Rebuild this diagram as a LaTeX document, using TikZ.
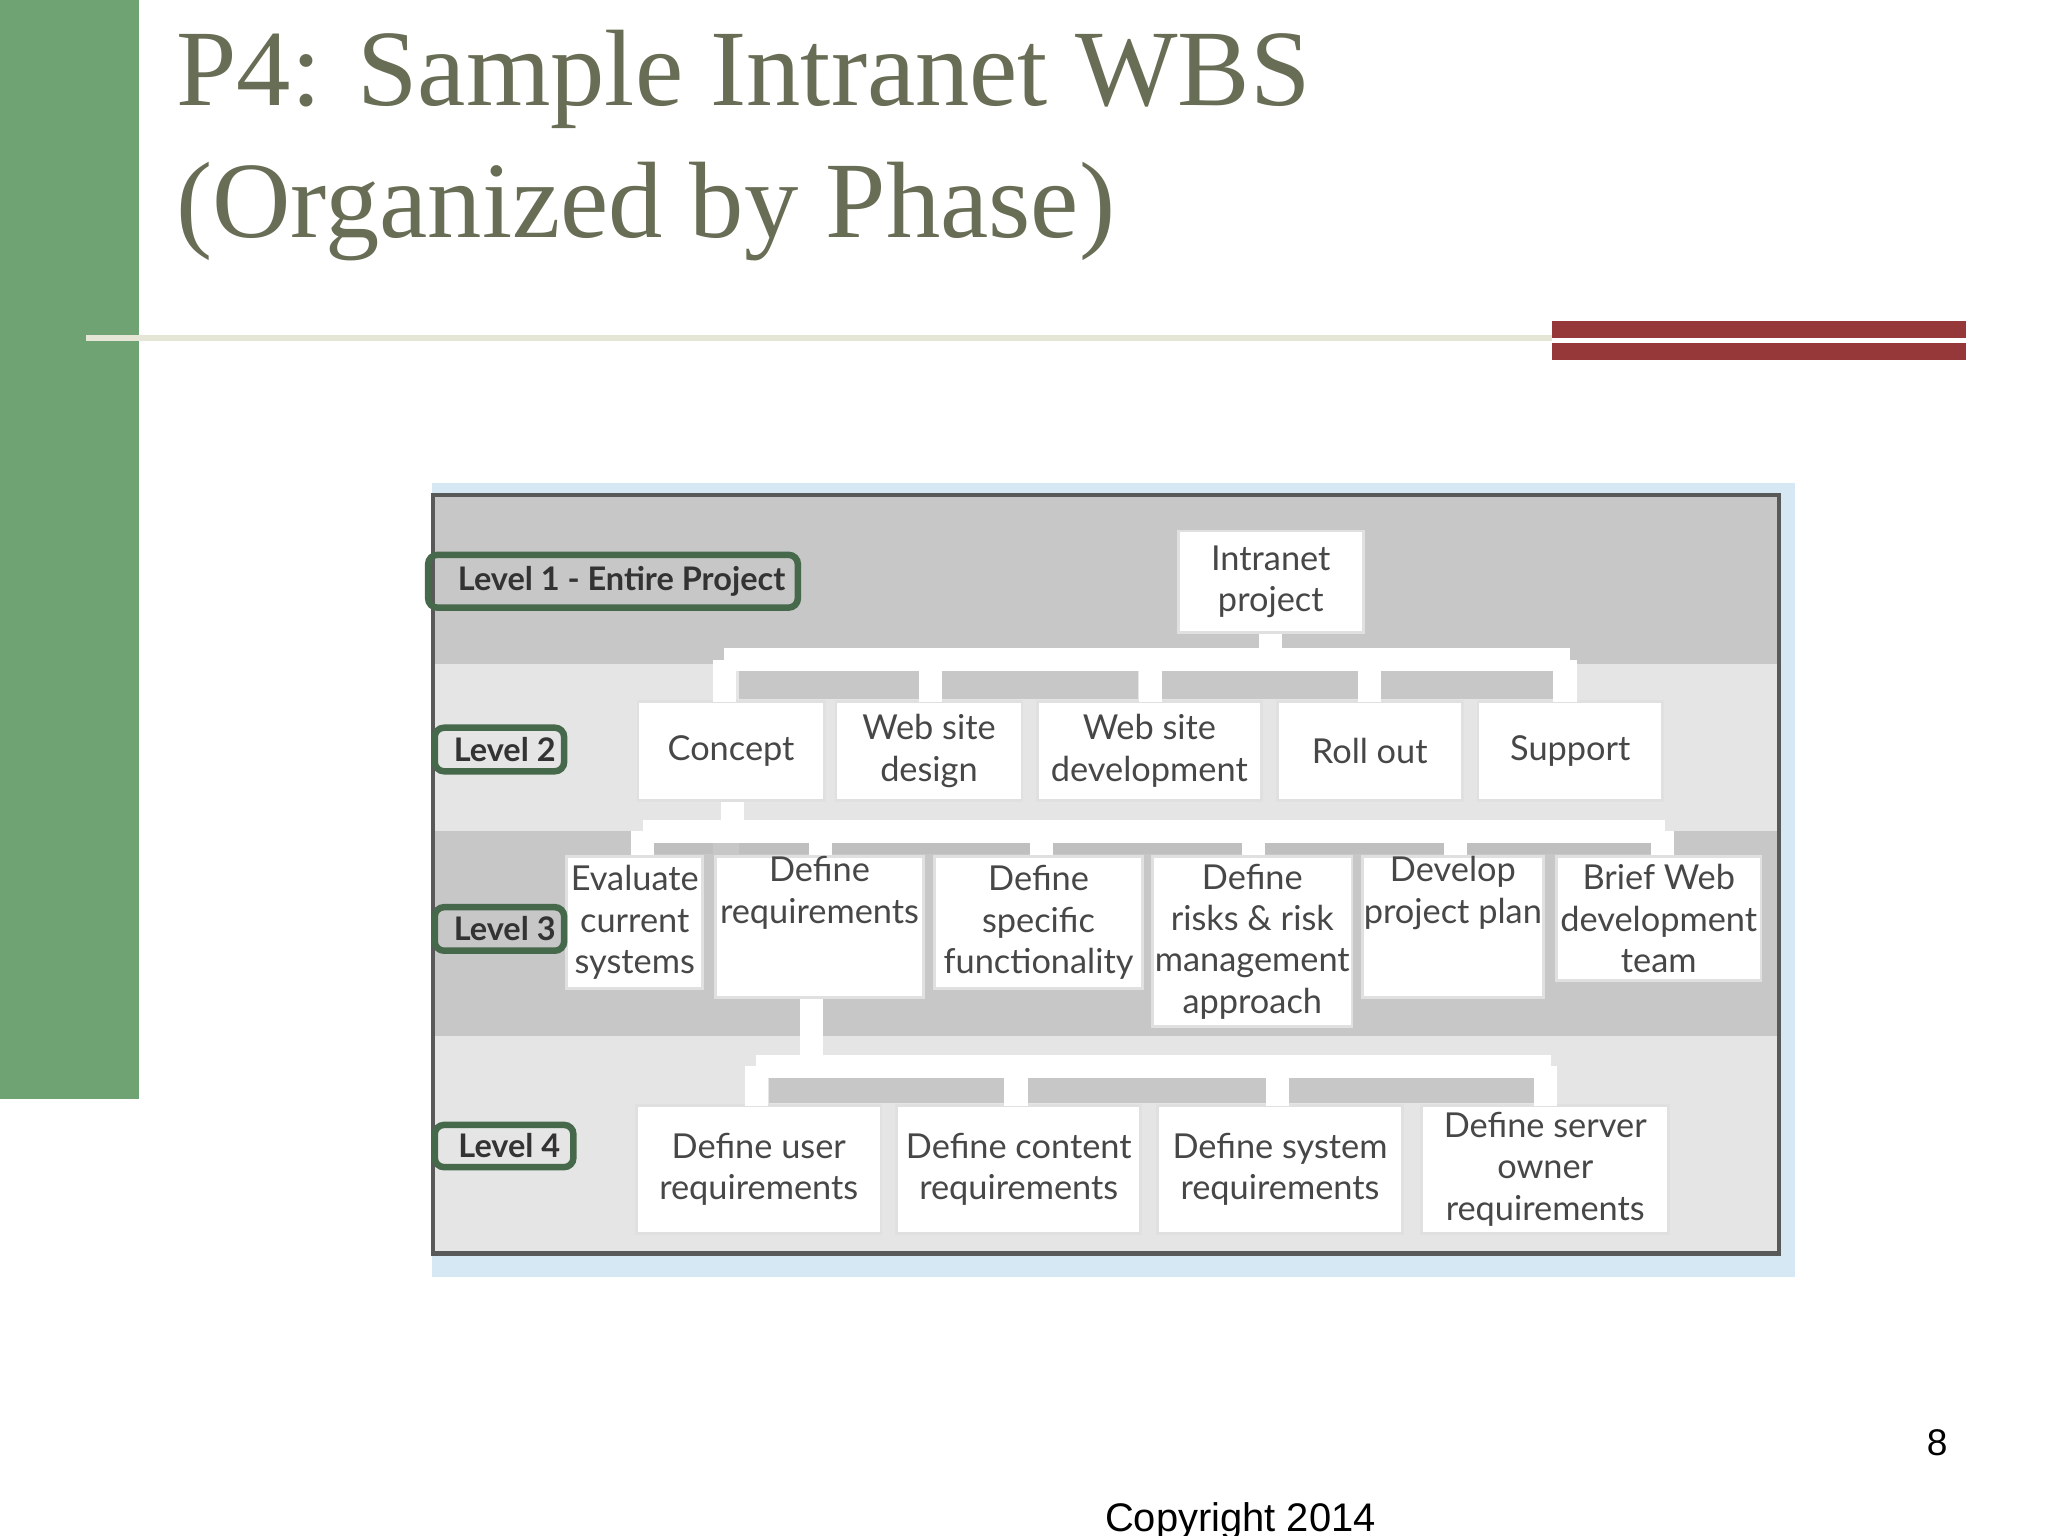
\documentclass[tikz,border=0pt]{standalone}
\usepackage{fontspec}
\setmainfont{Liberation Serif}
\newfontfamily\diag{Lato}
\newfontfamily\arial{Liberation Sans}
\definecolor{barg}{RGB}{111,163,115}
\definecolor{titc}{RGB}{104,110,85}
\definecolor{rulec}{RGB}{230,230,215}
\definecolor{redc}{RGB}{150,56,58}
\definecolor{blc}{RGB}{215,232,245}
\definecolor{lvlc}{RGB}{70,105,75}
\begin{document}
\begin{tikzpicture}[x=0.01cm,y=-0.01cm,
  box/.style={fill=white,draw=black!12,line width=0.6pt,align=center,font=\diag\fontsize{7.4}{8.9}\selectfont,text=black!72,inner sep=0pt},
  lvl/.style={draw=lvlc,line width=1.4pt,rounded corners=2pt,anchor=north west,font=\diag\bfseries\fontsize{7}{8}\selectfont,text=black!80,inner sep=0pt,align=left},
  wire/.style={white,line width=5pt}]
\useasboundingbox (0,0) rectangle (1552,1164);
\fill[white] (0,0) rectangle (1552,1164);
\fill[barg] (0,0) rectangle (105,833);
\node[anchor=base west,inner sep=0pt,text=titc,font=\fontsize{23.4}{28}\selectfont] (t1) at (133,80) {P4: Sample Intranet WBS};
\node[anchor=base west,inner sep=0pt,text=titc,font=\fontsize{23.4}{28}\selectfont] (t2) at (133,180) {(Organized by Phase)};
\draw[line width=1.2pt,rulec] (65,256) -- (1176,256);
\fill[redc] (1176,243) rectangle (1490,273);
\draw[white,line width=1pt] (1176,258) -- (1490,258);
\fill[blc] (327,366) rectangle (1360,968);
\fill[black!22] (328,375) rectangle (1348,503);
\fill[black!10] (328,503) rectangle (1348,630);
\fill[black!22] (328,630) rectangle (1348,785);
\fill[black!10] (328,785) rectangle (1348,950);
\draw[black!65,line width=1pt] (328,375) rectangle (1348,950);
\foreach \a/\b in {560/697,712/862,878/1030,1046/1182}{\fill[black!22] (\a,508) rectangle (\b,530);}
\foreach \a/\b in {495/540,560/617,630/785,796/944,957/1095,1110/1253}{\fill[black!25] (\a,636) rectangle (\b,647);}
\foreach \a/\b in {583/763,779/962,976/1165}{\fill[black!22] (\a,815) rectangle (\b,836);}
\node[box,minimum width=1.40cm,minimum height=0.77cm] (ip) at (963,441) {Intranet\\project};
\node[box,minimum width=1.41cm,minimum height=0.75cm] (c) at (554,569) {Concept};
\node[box,minimum width=1.41cm,minimum height=0.75cm] (wd) at (704,569) {Web site\\design};
\node[box,minimum width=1.70cm,minimum height=0.75cm] (wv) at (871,569) {Web site\\development};
\node[box,minimum width=1.40cm,minimum height=0.75cm] (ro) at (1038,569) {Roll out};
\node[box,minimum width=1.40cm,minimum height=0.75cm] (su) at (1190,569) {Support};
\node[box,minimum width=1.03cm,minimum height=1.00cm,anchor=north] (e) at (481,648) {Evaluate\\current\\systems};
\node[box,minimum width=1.58cm,minimum height=0.67cm,anchor=north] (dr) at (621,648) {Define\\requirements\\[0.25cm]};
\node[box,minimum width=1.58cm,minimum height=1.00cm,anchor=north] (ds) at (787,648) {Define\\specific\\functionality};
\node[box,minimum width=1.51cm,minimum height=1.29cm,anchor=north] (dk) at (949,648) {Define\\risks \& risk\\management\\approach};
\node[box,minimum width=1.37cm,minimum height=0.67cm,anchor=north] (dp) at (1101,648) {Develop\\project plan\\[0.25cm]};
\node[box,minimum width=1.55cm,minimum height=0.94cm,anchor=north] (bw) at (1257,648) {Brief Web\\development\\team};
\node[box,minimum width=1.85cm,minimum height=0.97cm] (u1) at (575,886) {Define user\\requirements};
\node[box,minimum width=1.85cm,minimum height=0.97cm] (u2) at (772,886) {Define content\\requirements};
\node[box,minimum width=1.86cm,minimum height=0.97cm] (u3) at (970,886) {Define system\\requirements};
\node[box,minimum width=1.87cm,minimum height=0.97cm] (u4) at (1171,886) {Define server\\owner\\requirements};
\coordinate (b1) at (963,500);
\draw[wire] (ip.south) -- (b1);
\draw[wire] (549,500) -- (1190,500);
\foreach \x in {549,705,872,1038,1186}{\draw[wire] (\x,500) -- (\x,532);}
\coordinate (b2) at (555,630);
\draw[wire] (c.south -| b2) -- (b2);
\draw[wire] (487,630) -- (1262,630);
\foreach \x in {487,622,789,950,1103,1260}{\draw[wire] (\x,630) -- (\x,648);}
\coordinate (b3) at (615,808);
\draw[wire] (dr.south -| b3) -- (b3);
\draw[wire] (573,808) -- (1175,808);
\foreach \x in {573,770,968,1171}{\draw[wire] (\x,808) -- (\x,838);}
\node[lvl,minimum width=2.80cm,minimum height=0.40cm] (l1) at (322,418) {\hspace{0.13cm}Level 1 - Entire Project};
\node[lvl,minimum width=0.98cm,minimum height=0.33cm] (l2) at (327,549) {\hspace{0.08cm}Level 2};
\node[lvl,minimum width=0.98cm,minimum height=0.33cm] (l3) at (327,685) {\hspace{0.08cm}Level 3};
\node[lvl,minimum width=1.05cm,minimum height=0.32cm] (l4) at (327,850) {\hspace{0.08cm}Level 4};
\node[font=\arial\fontsize{8}{10}\selectfont,inner sep=0pt] (pg) at (1468,1093) {8};
\node[font=\arial\fontsize{8.6}{11}\selectfont,inner sep=0pt] (cp) at (940,1153) {Copyright 2014};
\end{tikzpicture}
\end{document}
